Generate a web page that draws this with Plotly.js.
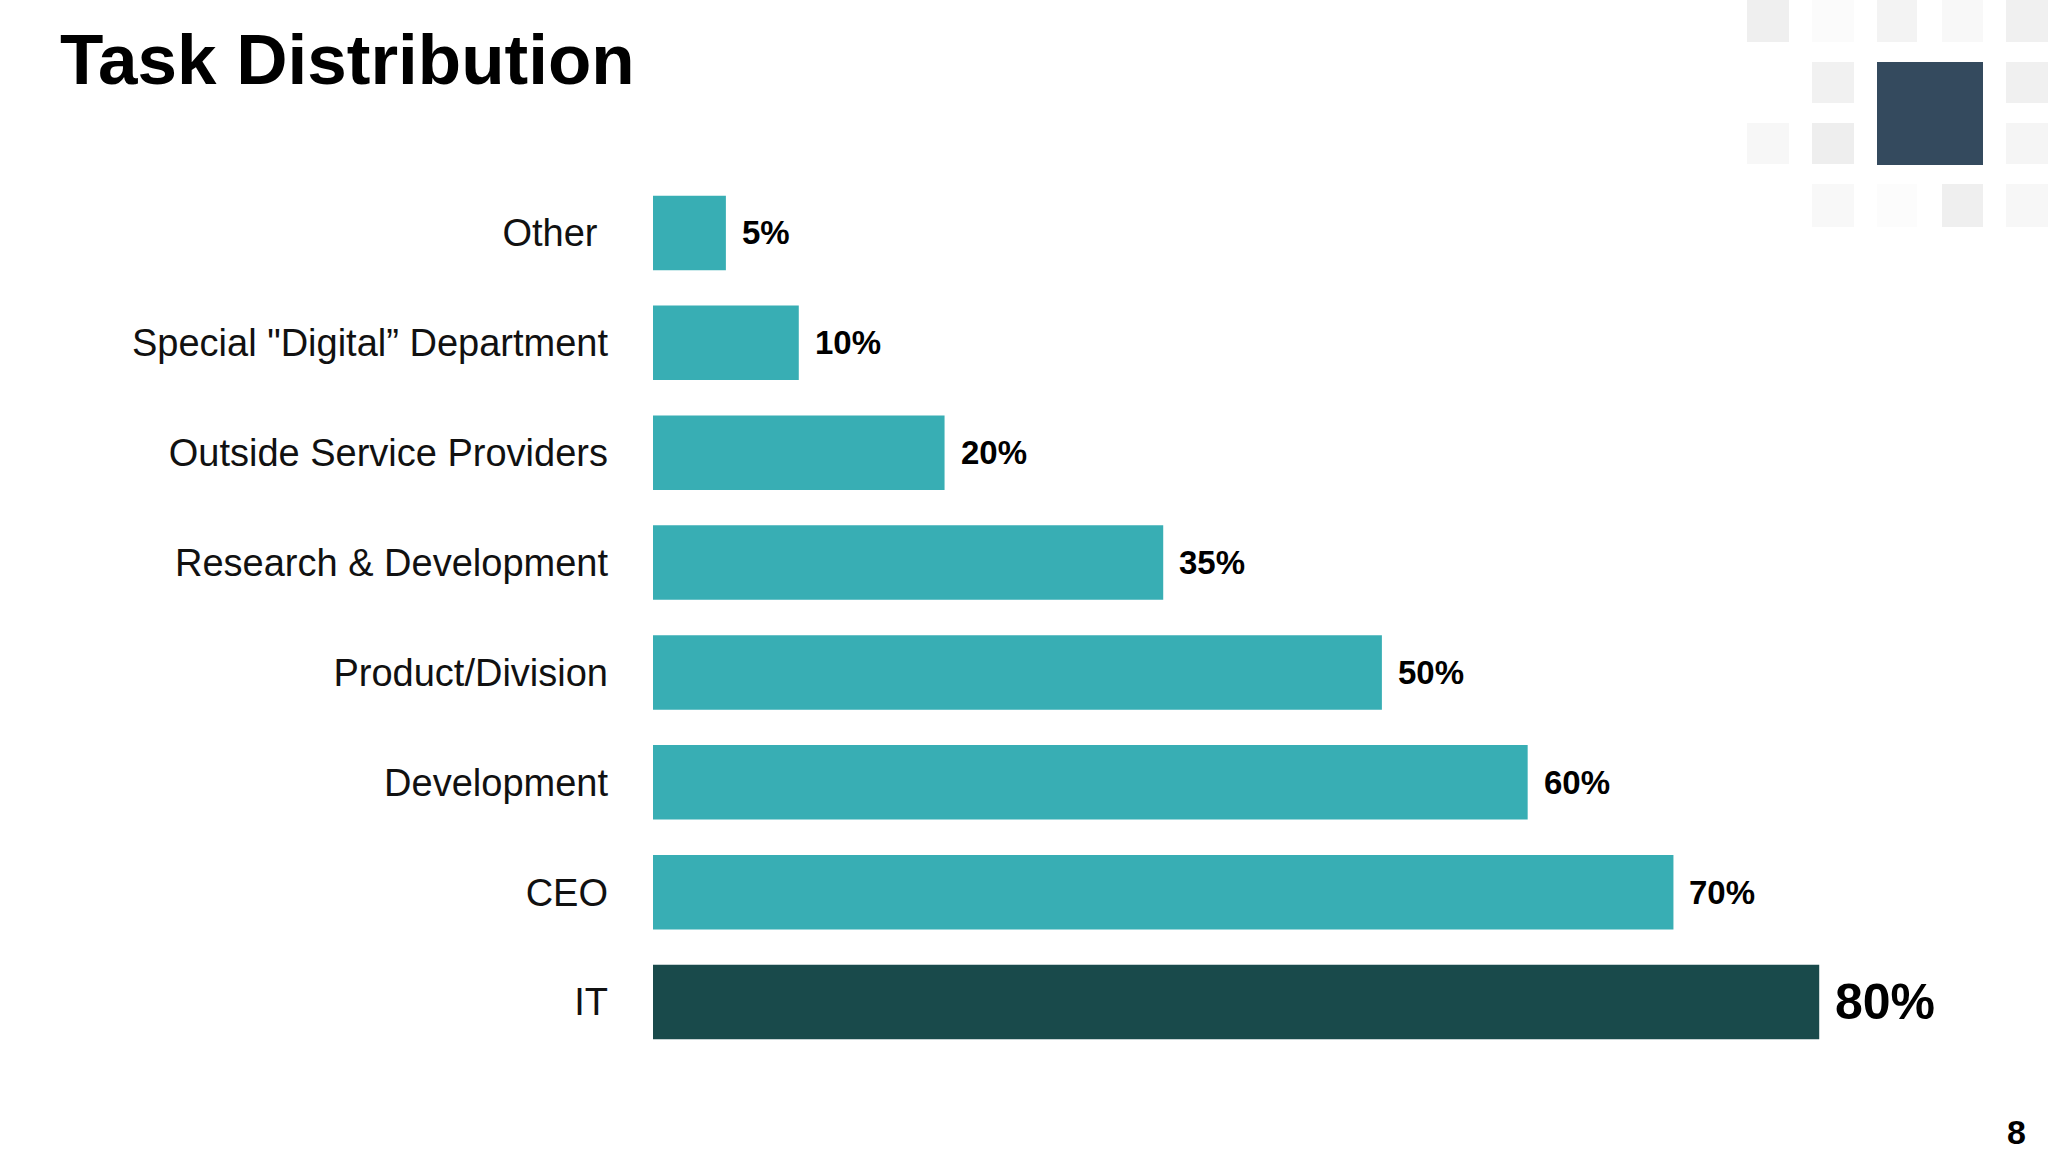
<!DOCTYPE html>
<html>
<head>
<meta charset="utf-8">
<script src="https://cdn.plot.ly/plotly-3.0.1.min.js"></script>
<style>html,body{margin:0;padding:0;background:#fff;}#chart{width:2048px;height:1152px;}</style>
</head>
<body>
<div id="chart"></div>
<script>
const categories = ["Other\u00a0", "Special \"Digital\u201d Department", "Outside Service Providers", "Research & Development", "Product/Division", "Development", "CEO", "IT"];
const values = [5, 10, 20, 35, 50, 60, 70, 80];
const valueLabels = ["5%", "10%", "20%", "35%", "50%", "60%", "70%", "80%"];
const highlight = "IT";

const teal = "#38aeb4";
const dark = "#194a4b";
const colors = categories.map(c => c === highlight ? dark : teal);

const trace = {
  type: "bar",
  orientation: "h",
  x: values,
  y: categories,
  marker: {color: colors, line: {width: 0}},
  hoverinfo: "none"
};

const W = 2048, H = 1152;
const mL = 653, mR = 83, mT = 178, mB = 95;
const pw = W - mL - mR, ph = H - mT - mB;
const px = x => (x - mL) / pw;
const py = y => (H - mB - y) / ph;

const annotations = categories.map((c, i) => ({
  x: values[i], y: c, xref: "x", yref: "y",
  text: valueLabels[i],
  showarrow: false, xanchor: "left", yanchor: "middle", xshift: 14,
  font: {family: "Liberation Sans, Arial, sans-serif", size: c === highlight ? 50 : 33, color: "#000", weight: "bold"}
}));

// page number
annotations.push({
  xref: "paper", yref: "paper", x: px(2016), y: py(1132), xanchor: "center", yanchor: "middle",
  text: "8", showarrow: false,
  font: {family: "Liberation Sans, Arial, sans-serif", size: 34, color: "#000", weight: "bold"}
});

// decoration squares [x0, y0, x1, y1, colour] in page pixels
const deco = [
  [1747,0,1789,42,"#efefef"],[1812,0,1854,42,"#fbfbfb"],[1877,0,1917,42,"#f3f3f3"],[1942,0,1983,42,"#f8f8f8"],[2006,0,2048,42,"#f0f0f0"],
  [1812,62,1854,103,"#f1f1f1"],[2006,62,2048,103,"#f0f0f0"],
  [1747,123,1789,164,"#f7f7f7"],[1812,123,1854,164,"#eeeeee"],[2006,123,2048,164,"#f5f5f5"],
  [1812,184,1854,227,"#f8f8f8"],[1877,184,1917,227,"#fcfcfc"],[1942,184,1983,227,"#efefef"],[2006,184,2048,227,"#f7f7f7"],
  [1877,62,1983,165,"#344a5e"]
];

const shapes = deco.map(d => ({
  type: "rect", xref: "paper", yref: "paper",
  x0: px(d[0]), x1: px(d[2]), y0: py(d[1]), y1: py(d[3]),
  fillcolor: d[4], line: {width: 0}, layer: "below"
}));

const layout = {
  width: W, height: H,
  margin: {l: mL, r: mR, t: mT, b: mB, pad: 0},
  paper_bgcolor: "#ffffff", plot_bgcolor: "rgba(0,0,0,0)",
  showlegend: false,
  bargap: 0.323,
  title: {
    text: "<b>Task Distribution</b>",
    x: 60 / W, xanchor: "left", xref: "container",
    y: 1 - 59 / H, yanchor: "middle", yref: "container",
    font: {family: "Liberation Sans, Arial, sans-serif", size: 71, color: "#000"}
  },
  xaxis: {range: [0, 90], visible: false, showgrid: false, zeroline: false, fixedrange: true},
  yaxis: {
    autorange: "reversed", showgrid: false, zeroline: false, showline: false, ticks: "",
    ticklabelstandoff: 44,
    tickfont: {family: "Liberation Sans, Arial, sans-serif", size: 38, color: "#111"},
    fixedrange: true
  },
  annotations: annotations,
  shapes: shapes
};

Plotly.newPlot("chart", [trace], layout, {displayModeBar: false, staticPlot: true});
</script>
</body>
</html>
